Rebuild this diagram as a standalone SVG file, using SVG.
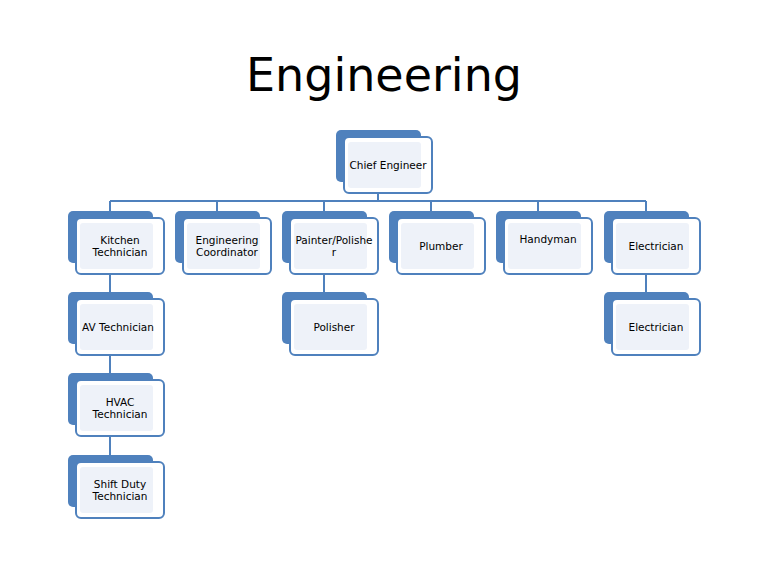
<svg xmlns="http://www.w3.org/2000/svg" width="768" height="576" viewBox="0 0 768 576">
<style>
.b{fill:#4f81bd}
.f{fill:#fff;stroke:#4f81bd;stroke-width:2}
.i{fill:#eef2f9}
.t{font-family:"DejaVu Sans",sans-serif;font-size:10.5px;text-anchor:middle;fill:#000}
.c{stroke:#4f81bd;stroke-width:2;fill:none}
</style>
<defs>
<g id="n">
<rect class="b" x="0" y="0" width="85" height="52" rx="5"/>
<rect class="f" x="8" y="7" width="88" height="56" rx="5"/>
<rect class="i" x="12" y="12" width="73" height="46" rx="3"/>
</g>
</defs>
<rect width="768" height="576" fill="#fff"/>
<text x="384" y="91" style="font-family:'DejaVu Sans',sans-serif;font-size:46px;text-anchor:middle">Engineering</text>
<g id="connectors">
<path class="c" d="M378 193V201M110 201H646M110 201V211M217 201V211M324 201V211M431 201V211M538 201V211M646 201V211M110 274V292M110 355V373M110 436V455M324 274V292M646 274V292"/>
</g>
<g id="chief"><use href="#n" x="336" y="130"/><text class="t" x="388" y="169">Chief Engineer</text></g>
<g id="kitchen"><use href="#n" x="68" y="211"/><text class="t" x="120" y="244">Kitchen</text><text class="t" x="120" y="256">Technician</text></g>
<g id="coord"><use href="#n" x="175" y="211"/><text class="t" x="227" y="244">Engineering</text><text class="t" x="227" y="256">Coordinator</text></g>
<g id="painter"><use href="#n" x="282" y="211"/><text class="t" x="334" y="244">Painter/Polishe</text><text class="t" x="334" y="256">r</text></g>
<g id="plumber"><use href="#n" x="389" y="211"/><text class="t" x="441" y="250">Plumber</text></g>
<g id="handyman"><use href="#n" x="496" y="211"/><text class="t" x="548" y="243">Handyman</text></g>
<g id="electrician1"><use href="#n" x="604" y="211"/><text class="t" x="656" y="250">Electrician</text></g>
<g id="av"><use href="#n" x="68" y="292"/><text class="t" x="118" y="331">AV Technician</text></g>
<g id="polisher"><use href="#n" x="282" y="292"/><text class="t" x="334" y="331">Polisher</text></g>
<g id="electrician2"><use href="#n" x="604" y="292"/><text class="t" x="656" y="331">Electrician</text></g>
<g id="hvac"><use href="#n" x="68" y="373"/><text class="t" x="120" y="406">HVAC</text><text class="t" x="120" y="418">Technician</text></g>
<g id="shift"><use href="#n" x="68" y="455"/><text class="t" x="120" y="488">Shift Duty</text><text class="t" x="120" y="500">Technician</text></g>
</svg>
